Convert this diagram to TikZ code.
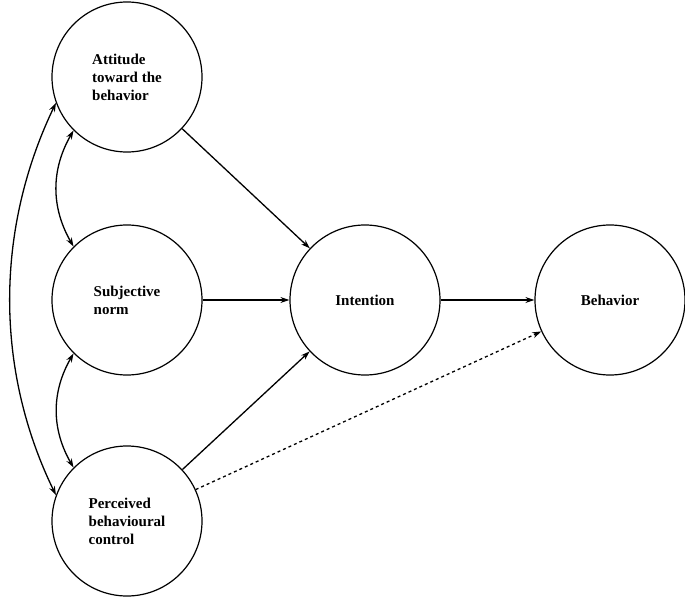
\documentclass[tikz,border=0pt]{standalone}
\usepackage{fontspec}
\setmainfont{Liberation Serif}
\usetikzlibrary{arrows.meta}
\begin{document}
\begin{tikzpicture}[x=1pt,y=-1pt,
  c/.style={circle,draw,line width=1.2pt,minimum size=150pt,inner sep=0pt,align=left,font=\bfseries\fontsize{15}{18}\selectfont},
  a/.style={line width=1.3pt,-{Stealth[length=9pt,width=6pt]}},
  b/.style={line width=1.3pt,{Stealth[length=9pt,width=6pt]}-{Stealth[length=9pt,width=6pt]}}]
\useasboundingbox (0,0) rectangle (685,599);
\node[c] (att) at (127,77) {Attitude\\toward the\\behavior};
\node[c] (sub) at (127,300) {Subjective\\norm};
\node[c] (per) at (127,521) {Perceived\\behavioural\\control};
\node[c] (int) at (365,300) {Intention};
\node[c] (beh) at (610,300) {Behavior};
\draw[a] (att) -- (int);
\draw[a] (sub) -- (int);
\draw[a] (per) -- (int);
\draw[a] (int) -- (beh);
\draw[a,dashed] (per) -- (beh);
\draw[b] (att.-135) to[bend right=30] (sub.135);
\draw[b] (sub.-135) to[bend right=30] (per.135);
\draw[b] (att.-160) .. controls (-5,230) and (-5,370) .. (per.160);
\end{tikzpicture}
\end{document}
